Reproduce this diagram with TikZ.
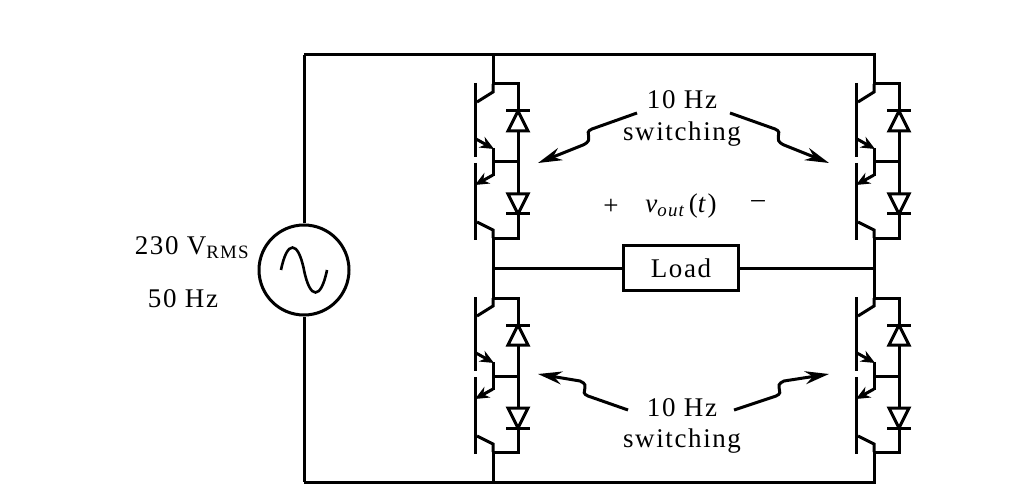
\documentclass[tikz,border=0pt]{standalone}
\usepackage{fontspec}
\setmainfont{Liberation Serif}[LetterSpace=6]
\usetikzlibrary{arrows.meta}
\tikzset{
  wire/.style={line width=3pt},
  lbl/.style={font=\fontsize{27}{30}\selectfont},
  squig/.style={line width=3pt,-{Stealth[length=24pt,width=13pt]}},
  emit/.style={line width=3pt,-{Stealth[length=14pt,width=12pt]}},
}
\newcommand{\bisw}[2]{%
  \begin{scope}[shift={(#1,#2)}]
  \draw[wire] (0,0) -- (25,0) -- (25,154) -- (0,154);
  \draw[wire] (0,78) -- (25,78);
  \draw[wire] (-18,-1) -- (-18,73);
  \draw[wire] (-18,79) -- (-18,156);
  \draw[wire] (-16,18) -- (0,8) -- (0,0);
  \draw[emit] (-17,55) -- (1,65);
  \draw[wire] (0,64) -- (0,92);
  \draw[emit] (0,91) -- (-18,101);
  \draw[wire] (-16,138) -- (0,146) -- (0,154);
  \draw[wire,fill=white] (15,47) -- (35,47) -- (25,27) -- cycle;
  \draw[wire] (13,27) -- (37,27);
  \draw[wire,fill=white] (15,110) -- (35,110) -- (25,130) -- cycle;
  \draw[wire] (13,130) -- (37,130);
  \end{scope}}
\begin{document}
\begin{tikzpicture}[x=1pt,y=-1pt]
\useasboundingbox (0,0) rectangle (1024,486);
\coordinate (tl) at (304,55);
\coordinate (tr) at (874,55);
\coordinate (bl) at (304,482);
\coordinate (br) at (874,482);
\draw[wire] (tl) -- (tr) -- (874,84);
\draw[wire] (bl) -- (br) -- (874,452);
\draw[wire] (493,55) -- (493,84);
\draw[wire] (493,452) -- (493,482);
\draw[wire] (493,238) -- (493,298);
\draw[wire] (874,238) -- (874,298);
\bisw{493}{84}
\bisw{493}{298}
\bisw{874}{84}
\bisw{874}{298}
\node[draw,circle,line width=3pt,minimum size=90pt,inner sep=0pt,fill=white] (src) at (304,270) {};
\draw[wire] (tl) -- (src.north);
\draw[wire] (src.south) -- (bl);
\draw[line width=2.6pt] (281,270) .. controls (287,240) and (298,240) .. (304,270) .. controls (310,300) and (321,300) .. (327,270);
\node[lbl] (vs) at (192,248) {230 V\textsubscript{RMS}};
\node[lbl] (fs) at (183,299) {50 Hz};
\node[draw,line width=3pt,minimum width=115pt,minimum height=45pt,fill=white,lbl] (load) at (681,268) {Load};
\coordinate (ml) at (493,268);
\coordinate (mr) at (874,268);
\draw[wire] (ml) -- (load.west);
\draw[wire] (load.east) -- (mr);
\node[lbl] (plus) at (611,207) {+};
\node[lbl] (vout) at (681,206) {\textit{v\textsubscript{out}}\,(\textit{t})};
\node[lbl] (minus) at (758,204) {--};
\node[lbl] (t1) at (682,100) {10 Hz};
\node[lbl] (t2) at (682,134) {switching};
\node[lbl] (b1) at (682,408) {10 Hz};
\node[lbl] (b2) at (682,441) {switching};
\draw[squig] (637,113) -- (592,129) .. controls (582,133) and (596,139) .. (583,145) -- (538,163);
\draw[squig] (730,113) -- (775,129) .. controls (785,133) and (771,139) .. (784,145) -- (829,163);
\draw[squig] (628,410) -- (588,396) .. controls (578,392) and (592,386) .. (580,381) -- (538,374);
\draw[squig] (734,410) -- (776,396) .. controls (786,392) and (772,386) .. (784,381) -- (829,374);
\end{tikzpicture}
\end{document}
